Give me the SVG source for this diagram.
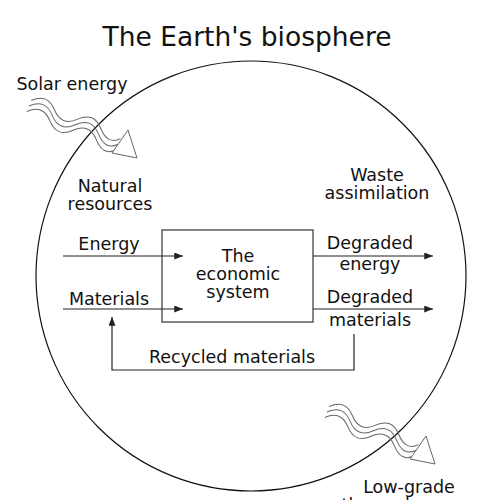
<svg xmlns="http://www.w3.org/2000/svg" xmlns:xlink="http://www.w3.org/1999/xlink" width="500" height="500" viewBox="0 0 500 500">
<style>
text{font-family:"DejaVu Sans","Liberation Sans",sans-serif;font-size:17.5px;fill:#111;text-anchor:middle}
.title{font-size:26.5px}
.flow{fill:none;stroke:#222;stroke-width:1.2}
.wv{fill:none;stroke:#666;stroke-width:1}
</style>
<defs>
<marker id="ah" viewBox="0 0 10 8" refX="10" refY="4" markerWidth="9" markerHeight="7" markerUnits="userSpaceOnUse" orient="auto">
<path d="M0,0 L10,4 L0,8 z" fill="#222"/>
</marker>
<g id="wave">
<g transform="translate(29,106) rotate(22)">
<path class="wv" d="M0,-6 q12.5,-13 25,0 t25,0 t25,0 t22,2"/>
<path class="wv" d="M0,0 q12.5,-13 25,0 t25,0 t25,0 t22,2"/>
<path class="wv" d="M0,6 q12.5,-13 25,0 t25,0 t25,0 t22,2"/>
</g>
<polygon points="112,153 128,130 137,158" fill="#fff" stroke="#666" stroke-width="1"/>
</g>
</defs>
<text class="title" x="247" y="46">The Earth's biosphere</text>
<circle id="biosphere" cx="251" cy="276" r="215" fill="none" stroke="#111" stroke-width="1.2"/>
<g id="solar">
<use xlink:href="#wave"/>
<text x="72" y="90">Solar energy</text>
</g>
<g id="lowgrade">
<use xlink:href="#wave" transform="translate(298,306)"/>
<text x="409" y="493">Low-grade</text>
<text x="409" y="511">thermal energy</text>
</g>
<g id="natural">
<text x="110" y="192">Natural</text>
<text x="110" y="210">resources</text>
</g>
<g id="waste">
<text x="377" y="181">Waste</text>
<text x="377" y="199">assimilation</text>
</g>
<g id="economy">
<rect x="162" y="230" width="151" height="92" fill="none" stroke="#444" stroke-width="1.3"/>
<text x="238" y="262">The</text>
<text x="238" y="280">economic</text>
<text x="238" y="298">system</text>
</g>
<g id="connectors">
<line class="flow" x1="63" y1="256" x2="183" y2="256" marker-end="url(#ah)"/>
<line class="flow" x1="63" y1="309" x2="183" y2="309" marker-end="url(#ah)"/>
<line class="flow" x1="313" y1="256" x2="433" y2="256" marker-end="url(#ah)"/>
<line class="flow" x1="313" y1="309" x2="433" y2="309" marker-end="url(#ah)"/>
<path class="flow" d="M354,334 V370 H112 V317" marker-end="url(#ah)"/>
</g>
<g id="labels">
<text x="109" y="250">Energy</text>
<text x="109" y="305">Materials</text>
<text x="370" y="249">Degraded</text>
<text x="370" y="270">energy</text>
<text x="370" y="303">Degraded</text>
<text x="370" y="326">materials</text>
<text x="232" y="363">Recycled materials</text>
</g>
</svg>
